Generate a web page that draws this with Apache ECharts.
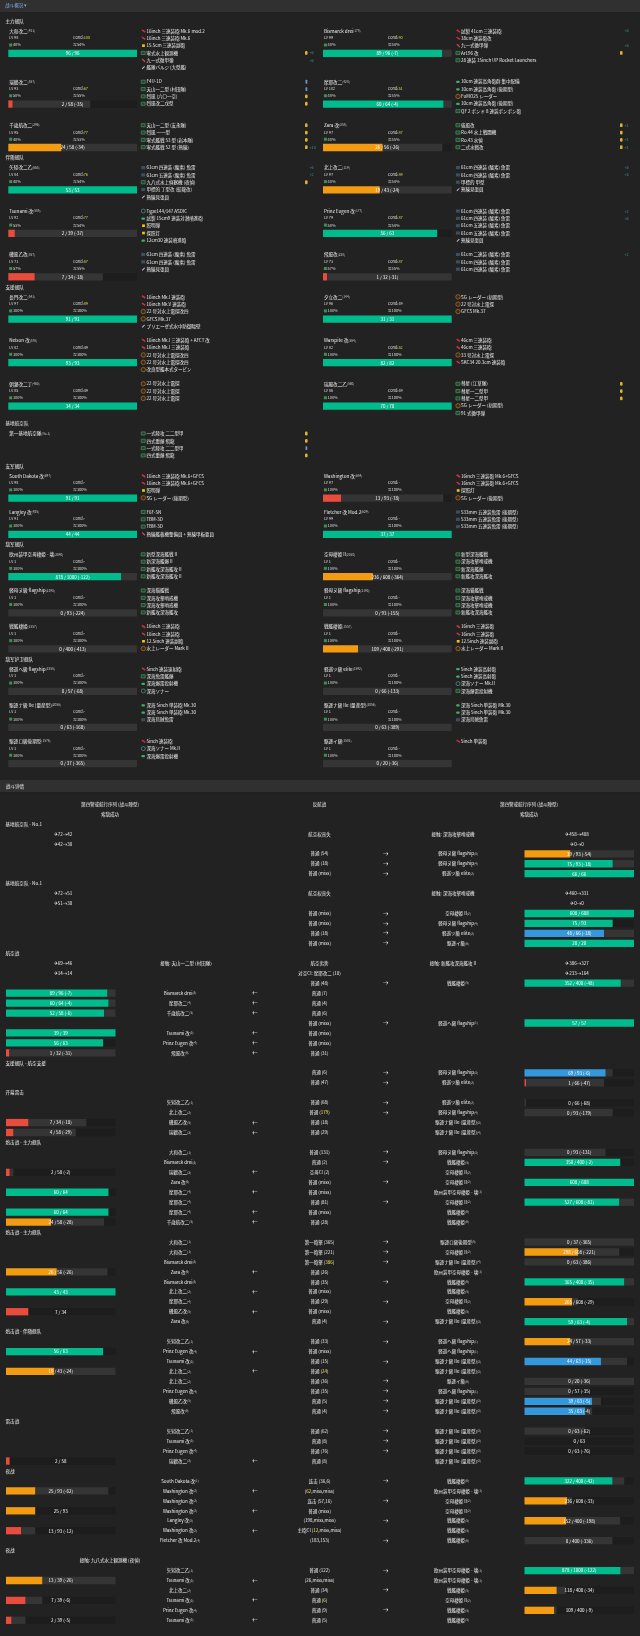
<!DOCTYPE html>
<html><head><meta charset="utf-8">
<style>html,body{margin:0;padding:0;background:#222}#c{width:640px;height:1636px;filter:blur(0.3px)}</style>
<script src="https://cdn.jsdelivr.net/npm/echarts@6/dist/echarts.min.js"></script>
</head><body><div id="c"></div>
<script>
// ---------- data: overview ----------
// ship: name, id, lv, cond, morale, ammo, now, prior, max, delta, equipment [type, name, tag, plus]
const gun16 = '16inch 三連装砲 Mk.6+GFCS', t61q = '61cm 四連装 (酸素) 魚雷', t61p = '61cm 五連装 (酸素) 魚雷';
const mainFleet = [
 ['大和改二','911',98,100,'40%','54%',96,96,96,0,[['gun','16inch 三連装砲 Mk.6 mod.2'],['gun','16inch 三連装砲 Mk.6'],['sec','15.5cm 三連装副砲'],['plane','零式水上観測機','y','+6'],['shell','九一式徹甲弾','','+6'],['item','艦隊バルジ (大型艦)']]],
 ['Bismarck drei','178',99,90,'40%','54%',89,96,96,7,[['gun','試製 41cm 三連装砲','','+5'],['gun','38cm 連装砲改'],['shell','九一式徹甲弾','','+5'],['plane','Ar196 改','y'],['plane','28 連装 15inch UP Rocket Launchers']]],
 ['瑞鶴改二','557',93,67,'50%','55%',2,37,58,35,[['plane','F4U-1D','b'],['plane','天山一二型 (村田隊)','b'],['plane','烈風 (六〇一空)','y'],['plane','烈風改二戊型','y']]],
 ['摩耶改二','428',102,51,'48%','55%',60,64,64,4,[['aa','10cm 連装高角砲群 集中配備'],['aa','10cm 連装高角砲 (後期型)'],['radar','FuMO25 レーダー'],['aa','10cm 連装高角砲 (後期型)'],['plane','QF 2 ポンド 8 連装ポンポン砲']]],
 ['千歳航改二','296',95,77,'40%','53%',24,58,58,34,[['plane','天山一二型 (友永隊)','y'],['plane','烈風 一一型','y'],['plane','零式艦戦 53 型 (岩本隊)','y'],['plane','零式艦戦 52 型 (熟練)','y','+10']]],
 ['Zara 改','358',97,87,'40%','55%',26,52,56,26,[['plane','強風改','y','+1'],['plane','Ro.44 水上戦闘機','y'],['plane','Ro.43 水偵','y','+1'],['plane','二式水戦改','y','+1']]]
];
const escortFleet = [
 ['矢矧改二乙','663',84,76,'40%','54%',53,53,53,0,[['torp',t61q,'','+6'],['torp',t61p,'','+2'],['plane','九八式水上偵察機 (夜偵)','y'],['torp','甲標的 丁型改 (蛟龍改)'],['item','熟練見張員']]],
 ['北上改二','119',97,89,'40%','54%',19,43,43,24,[['torp',t61q,'','+5'],['torp',t61q,'','+5'],['torp','甲標的 甲型'],['item','熟練見張員']]],
 ['Tsunami 改','585',92,77,'53%','54%',2,39,39,37,[['sonar','Type144/147 ASDIC'],['aa','試製 15cm9 連装対潜噴進砲'],['sec','照明弾'],['sec','探照灯'],['aa','12cm30 連装噴進砲']]],
 ['Prinz Eugen 改','177',79,87,'58%','54%',56,56,63,0,[['torp',t61q,'','+2'],['torp',t61q,'','+6'],['torp',t61p],['torp',t61p],['item','熟練見張員']]],
 ['磯風乙改','557',71,87,'57%','55%',7,25,34,18,[['torp',t61q],['torp',t61q],['item','熟練見張員']]],
 ['飛風改','228',73,87,'57%','55%',1,32,32,31,[['torp','61cm 二連装 (酸素) 魚雷','','+2'],['torp',t61q],['torp',t61q]]]
];
const supportFleet = [
 ['長門改二','541',97,89,'100%','100%',91,91,91,0,[['gun','16inch Mk.I 連装砲'],['gun','16inch Mk.V 連装砲'],['radar','22 号対水上電探改四'],['radar','GFCS Mk.37'],['item','プリエーゼ式水中防御隔壁']]],
 ['夕立改二','144',96,49,'100%','100%',31,31,31,0,[['radar','SG レーダー (初期型)'],['radar','22 号対水上電探'],['radar','GFCS Mk.37']]],
 ['Nelson 改','576',82,49,'100%','100%',93,93,93,0,[['gun','16inch Mk.I 三連装砲 + AFCT 改'],['gun','16inch Mk.I 三連装砲'],['radar','22 号対水上電探改四'],['radar','22 号対水上電探改四'],['radar','改良型艦本式タービン']]],
 ['Warspite 改','364',82,52,'100%','100%',82,82,82,0,[['gun','46cm 三連装砲'],['gun','46cm 三連装砲'],['radar','33 号対水上電探'],['gun','SKC34 20.3cm 連装砲']]],
 ['朝潮改二丁','463',85,49,'100%','100%',34,34,34,0,[['radar','22 号対水上電探'],['radar','22 号対水上電探'],['radar','22 号対水上電探']]],
 ['瑞鳳改二乙','560',86,49,'100%','100%',70,70,70,0,[['plane','彗星 (江草隊)','y'],['plane','彗星一二型甲','y'],['plane','彗星一二型甲','y'],['radar','SG レーダー (初期型)'],['plane','91 式徹甲弾']]]
];
const airBaseName = '第一基地航空隊', airBaseTag = 'No.1';
const airBaseSlots = [['plane','一式陸攻 二二型甲','y'],['plane','四式重爆 飛龍','y'],['plane','一式陸攻 二二型甲','b'],['plane','四式重爆 飛龍','y']];
const friendFleet = [
 ['South Dakota 改','697',98,'-','100%','100%',91,91,91,0,[['gun',gun16],['gun',gun16],['sec','照明弾'],['radar','SG レーダー (後期型)']]],
 ['Washington 改','654',97,'-','100%','100%',13,87,93,78,[['gun',gun16],['gun',gun16],['sec','探照灯'],['radar','SG レーダー (後期型)']]],
 ['Langley 改','925',91,'-','100%','100%',44,44,44,0,[['plane','F6F-5N'],['plane','TBM-3D'],['plane','TBM-3D'],['shell','熟練艦載機整備員 + 熟練甲板要員']]],
 ['Fletcher 改 Mod.2','629',99,'-','100%','100%',37,37,37,0,[['torp','533mm 五連装魚雷 (後期型)'],['torp','533mm 五連装魚雷 (後期型)'],['torp','533mm 五連装魚雷 (後期型)']]]
];
const enemyFleet = [
 ['欧州装甲空母棲姫 - 壊','2040',1,'-','100%','100%',878,1000,1000,122,[['plane','新型深海艦戦 II'],['plane','新深海艦爆 II'],['plane','新艦攻深海艦攻 II'],['plane','新艦攻深海艦攻 II']]],
 ['空母棲姫 II','2160',1,'-','100%','100%',236,608,608,364,[['plane','新型深海艦戦'],['plane','深海攻撃哨戒機'],['plane','新深海艦爆'],['plane','新艦攻深海艦攻']]],
 ['軽母ヌ級 flagship','2193',1,'-','100%','100%',0,93,93,224,[['plane','深海猫艦戦'],['plane','深海攻撃哨戒機'],['plane','深海攻撃哨戒機'],['plane','新艦攻深海艦攻']]],
 ['軽母ヌ級 flagship','2193',1,'-','100%','100%',0,93,93,155,[['plane','深海猫艦戦'],['plane','深海攻撃哨戒機'],['plane','深海攻撃哨戒機'],['plane','新艦攻深海艦攻']]],
 ['戦艦棲姫','1557',1,'-','100%','100%',0,400,400,413,[['gun','16inch 三連装砲'],['gun','16inch 三連装砲'],['sec','12.5inch 連装副砲'],['radar','水上レーダー Mark II']]],
 ['戦艦棲姫','1557',1,'-','100%','100%',109,400,400,291,[['gun','16inch 三連装砲'],['gun','16inch 三連装砲'],['sec','12.5inch 連装副砲'],['radar','水上レーダー Mark II']]]
];
const enemyEscort = [
 ['軽巡ヘ級 flagship','1555',1,'-','100%','100%',0,57,57,68,[['gun','5inch 連装速射砲'],['plane','深海魚雷艦爆'],['aa','深海爆雷投射機'],['sonar','深海ソナー']]],
 ['軽巡ツ級 elite','1592',1,'-','100%','100%',0,66,66,133,[['aa','5inch 連装高射砲'],['aa','5inch 連装高射砲'],['sonar','深海ソナー Mk.II'],['plane','深海爆雷投射機']]],
 ['駆逐ナ級 IIe (量産型)','2056',1,'-','100%','100%',0,63,63,168,[['aa','深海 5inch 単装砲 Mk.30'],['aa','深海 5inch 単装砲 Mk.30'],['torp','深海烏賊魚雷']]],
 ['駆逐ナ級 IIe (量産型)','2056',1,'-','100%','100%',0,63,63,389,[['aa','深海 5inch 単装砲 Mk.30'],['aa','深海 5inch 単装砲 Mk.30'],['torp','深海烏賊魚雷']]],
 ['駆逐ロ級後期型','1576',1,'-','100%','100%',0,37,37,365,[['gun','5inch 連装砲'],['sonar','深海ソナー Mk.II'],['aa','深海爆雷投射機']]],
 ['駆逐イ級','1501',1,'-','100%','100%',0,20,20,36,[['gun','5inch 単装砲']]]
];
const overviewTitle = '战斗概况 ▾', detailTitle = '战斗详情';
const fleetTitles = ['主力舰队','伴随舰队','支援舰队','基地航空队','友军舰队','敌军舰队','敌军护卫舰队'];

// ---------- data: battle ----------
// hit: source, direction, attack, target, now, prior, max, delta  (!n = critical)
const Ya='大和改二|1',Bi='Bismarck drei|2',Zu='瑞鶴改二|3',Ma='摩耶改二|4',Ch='千歳航改二|5',Za='Zara 改|6';
const Yh='矢矧改二乙|1',Ki='北上改二|2',Ts='Tsunami 改|3',Pr='Prinz Eugen 改|4',Is='磯風乙改|5',Hi='飛風改|6';
const Sd='South Dakota 改|1',Wa='Washington 改|2',La='Langley 改|3',Fl='Fletcher 改 Mod.2|4';
const Eu='欧州装甲空母棲姫 - 壊|1',Kb='空母棲姫 II|2',Nu3='軽母ヌ級 flagship|3',Nu4='軽母ヌ級 flagship|4',Se5='戦艦棲姫|5',Se6='戦艦棲姫|6';
const He='軽巡ヘ級 flagship|1',Tu='軽巡ツ級 elite|2',Na3='駆逐ナ級 IIe (量産型)|3',Na4='駆逐ナ級 IIe (量産型)|4',Ro='駆逐ロ級後期型|5',Iy='駆逐イ級|6';
const topHeader = ['第四警戒航行序列 (战斗陣型)','反航战','第四警戒航行序列 (战斗陣型)'];
const topSearch = ['索敌成功','','索敌成功'];
const lbInfo1 = [['✈72→42','','航空权丧失','接触: 深海攻撃哨戒機','✈458→408'],['✈42→30','','','','✈0→0']];
const lbHits1 = [['','→','普通 (54)',Nu3,39,93,93,54],['','→','普通 (18)',Nu4,75,93,93,18],['','→','普通 (miss)',Tu,66,66,66,0]];
const lbInfo2 = [['✈72→51','','航空权丧失','接触: 深海攻撃哨戒機','✈460→331'],['✈51→30','','','','✈0→0']];
const lbHits2 = [['','→','普通 (miss)',Kb,608,608,608,0],['','→','普通 (miss)',Nu4,75,75,93,0],['','→','普通 (18)',Tu,48,66,66,18],['','→','普通 (miss)',Iy,20,20,20,0]];
const airInfo = [['✈69→46','接触: 天山一二型 (村田隊)','航空劣势','接触: 新艦攻深海艦攻 II','✈386→327'],['✈14→14','','对空CI: 摩耶改二 (10)','','✈233→164']];
const airHits = [['','→','普通 (48)',Se5,352,400,400,48],['←',Bi,'普通 (7)','',89,96,96,7],['←',Ma,'普通 (4)','',60,64,64,4],['←',Ch,'普通 (6)','',52,58,58,6],['','→','普通 (miss)',He,57,57,57,0],['←',Ts,'普通 (miss)','',39,39,39,0],['←',Pr,'普通 (miss)','',56,56,63,0],['←',Hi,'普通 (31)','',1,32,32,31]];
const supportHits = [['','→','普通 (6)',Nu3,69,75,93,6],['','→','普通 (47)',Tu,1,48,66,47]];
const torpHits = [[Yh,'→','普通 (68)',Tu,0,1,66,68],[Ki,'→','普通 (!179)',Nu4,0,75,93,179],[Is,'←','普通 (18)',Na3,7,25,34,18],[Zu,'←','普通 (29)',Na4,4,37,58,29]];
const shell1Hits = [[Ya,'→','普通 (131)',Nu3,0,69,93,131],[Bi,'→','普通 (2)',Se5,350,352,400,2],[Zu,'←','空母CI (2)',Kb,2,4,58,2],[Za,'→','普通 (miss)',Kb,608,608,608,0],[Ma,'←','普通 (miss)',Eu,60,60,64,0],[Ma,'→','普通 (81)',Kb,527,608,608,81],[Ma,'←','普通 (miss)',Se6,60,60,64,0],[Ch,'←','普通 (28)',Se6,24,52,58,28]];
const shell2Hits = [[Ya,'→','第一砲撃 (365)',Ro,0,37,37,365],[Ya,'→','第一砲撃 (221)',Kb,298,527,608,221],[Bi,'→','第一砲撃 (!386)',Na4,0,63,63,386],[Za,'←','普通 (26)',Eu,26,52,56,26],[Bi,'→','普通 (35)',Se6,365,400,400,35],[Ki,'←','普通 (miss)',Se5,43,43,43,0],[Ma,'→','普通 (29)',Kb,265,298,608,29],[Is,'←','普通 (miss)',Se5,7,7,34,0],[Za,'→','普通 (4)',Na3,59,63,63,4]];
const shell3Hits = [[Yh,'→','普通 (33)',He,24,57,57,33],[Pr,'←','普通 (miss)',He,56,56,63,0],[Ts,'→','普通 (15)',Na3,44,59,63,15],[Ki,'←','普通 (!24)',Na3,19,43,43,24],[Ki,'→','普通 (36)',Iy,0,20,20,36],[Pr,'→','普通 (35)',He,0,24,57,35],[Is,'→','普通 (5)',Na3,39,44,63,5],[Hi,'→','普通 (4)',Na3,35,39,63,4]];
const torpedoHits = [[Yh,'→','普通 (62)',Na3,0,35,63,62],[Ts,'→','普通 (8)',Na3,0,0,63,0],[Pr,'→','普通 (76)',Na3,0,0,63,76],[Zu,'←','普通 (8)',Na3,2,2,58,0]];
const night1Hits = [[Sd,'→','连击 (36,6)',Se6,322,365,400,42],[Wa,'←','(!62,miss,miss)',Eu,25,87,93,62],[Wa,'→','连击 (57,16)',Kb,236,265,608,33],[Wa,'←','普通 (miss)',Kb,25,25,93,0],[La,'→','(198,miss,miss)',Se5,152,350,400,198],[Wa,'←','主砲CI (!12,miss,miss)',Se5,13,25,93,12],[Fl,'→','(183,153)',Se6,0,322,400,336]];
const night2Info = [['','接触: 九八式水上観測機 (夜偵)','','','']];
const night2Hits = [[Yh,'→','普通 (122)',Eu,878,1000,1000,122],[Ts,'←','(26,miss,miss)',Eu,13,39,39,26],[Ki,'→','普通 (34)',Se5,118,152,400,34],[Ts,'←','普通 (!6)',Kb,7,13,39,6],[Pr,'→','普通 (9)',Se5,109,118,400,9],[Ts,'←','普通 (5)',Se5,2,7,39,5]];
const phaseTitles = ['基地航空队 - No.1','基地航空队 - No.1','航空战','支援舰队 - 航空支援','开幕雷击','炮击战 - 主力舰队','炮击战 - 主力舰队','炮击战 - 伴随舰队','雷击战','夜战','夜战'];

// ---------- layout and style ----------
const FONT='"Noto Sans CJK JP","Noto Sans",sans-serif';
const G=[], grids=[], xAxes=[], yAxes=[], series=[];
function txt(x,y,s,size,fill,align){G.push({type:'text',silent:true,z:100,style:{x,y,text:s,font:size+'px '+FONT,fill:fill||'#eee',align:align||'left',verticalAlign:'middle'}});}
function rich(x,y,s,rt,align){G.push({type:'text',silent:true,z:100,style:{x,y,text:s,rich:rt,align:align||'left',verticalAlign:'middle'}});}
const nameRich=(size)=>({n:{font:size+'px '+FONT,fill:'#eee'},s:{font:(size-1.4)+'px '+FONT,fill:'#ccc'},c:{font:size+'px '+FONT,fill:'#f1e05a'}});
function named(x,y,str,size,align){const p=str.split('|');rich(x,y,'{n|'+p[0]+'}'+(p[1]?'{s|('+p[1]+')}':''),nameRich(size),align);}
function rect(x,y,w,h,fill,r){G.push({type:'rect',silent:true,shape:{x,y,width:w,height:h,r:r||0},style:{fill}});}
function barColor(r){return r>=0.75?'#00bc8c':r>=0.5?'#3498db':r>=0.25?'#f39c12':'#e74c3c';}
function bar(x,cy,w,now,prior,max,delta){
  const i=grids.length,h=7.3;
  grids.push({left:x,top:cy-h/2,width:w,height:h,show:false});
  xAxes.push({gridIndex:i,type:'value',min:0,max:max,show:false});
  yAxes.push({gridIndex:i,type:'category',data:['hp'],show:false});
  const base={type:'bar',xAxisIndex:i,yAxisIndex:i,stack:'b'+i,barWidth:'100%',silent:true,animation:false};
  series.push(Object.assign({},base,{data:[now],itemStyle:{color:barColor(now/max)}}));
  series.push(Object.assign({},base,{data:[Math.max(prior-now,0)],itemStyle:{color:'#353535'}}));
  series.push(Object.assign({},base,{data:[Math.max(max-Math.max(prior,now),0)],itemStyle:{color:'#1d1d1d'}}));
  const label=now+' / '+max+(delta?' (-'+delta+')':'');
  txt(x+w/2,cy+0.2,label,4.5,'#fff','center');
}
function icon(t,x,y){
  if(t==='gun')G.push({type:'rect',silent:true,x:x+1.8,y:y,rotation:-0.6,originX:0,originY:0,shape:{x:-2,y:-0.8,width:4,height:1.6},style:{fill:'#c8313f'}});
  else if(t==='shell')G.push({type:'rect',silent:true,x:x+1.8,y:y,rotation:-0.8,shape:{x:-2,y:-0.6,width:4,height:1.2},style:{fill:'#c8505a'}});
  else if(t==='sec')rect(x+0.3,y-1.3,2.8,2.6,'#f1c40f');
  else if(t==='plane')G.push({type:'rect',silent:true,shape:{x:x-0.6,y:y-1.6,width:4,height:3.2},style:{fill:'#24452f',stroke:'#4fa36a',lineWidth:0.6}});
  else if(t==='aa')G.push({type:'rect',silent:true,shape:{x:x-0.4,y:y-0.9,width:3.6,height:2.2,r:1},style:{fill:'#3fae6a'}});
  else if(t==='torp')rect(x-0.6,y-1.6,4,3.2,'#3c4e60');
  else if(t==='radar')G.push({type:'circle',silent:true,shape:{cx:x+1.5,cy:y,r:2.2},style:{fill:'#3a2a18',stroke:'#b5722a',lineWidth:0.7}});
  else if(t==='sonar')G.push({type:'circle',silent:true,shape:{cx:x+1.5,cy:y,r:2},style:{fill:'#222',stroke:'#6aa',lineWidth:0.6}});
  else G.push({type:'rect',silent:true,x:x+1.6,y:y,rotation:0.8,shape:{x:-1.8,y:-0.5,width:3.6,height:1},style:{fill:'#c9b6d8'}});
}
function equips(list,x,y0,tagX){
  list.forEach((e,k)=>{
    const y=y0+k*7.32;
    icon(e[0],x,y); txt(x+4.6,y,e[1],4.5);
    if(e[2]==='y')rect(tagX,y-1.9,2.6,3.8,'#dfb52a',1.2);
    if(e[2]==='b')rect(tagX+0.5,y-1.9,1.8,3.8,'#6d8fc4',0.5);
    if(e[3])txt(tagX+4.4,y,e[3],3.9,'#2f9a92');
  });
}
function shipBlock(s,col,y){
  const x0=col?323:8.3, w=128.7;
  named(x0+0.9,y,s[0]+'|'+s[1],4.6);
  txt(x0+0.9,y+6.8,'Lv '+s[2],3.9,'#ddd');
  const cond=(typeof s[3]==='number'&&s[3]>=50)?'#e5d94f':'#ddd';
  rich(x0+64.7,y+6.8,'{a|Cond:}{b|'+s[3]+'}',{a:{font:'3.9px '+FONT,fill:'#ddd'},b:{font:'3.9px '+FONT,fill:cond}});
  rect(x0+0.9,y+12.5,3,3,'#3f8f55');
  txt(x0+4.6,y+14,s[4],3.9,'#ddd');
  txt(x0+64.7,y+14,'≈'+s[5],3.9,'#ddd');
  bar(x0,y+22.3,w,s[6],s[7],s[8],s[9]);
  equips(s[10],x0+133.5,y,col?620:305);
}
function fleetPairs(list,y){
  for(let i=0;i<list.length;i+=2){
    shipBlock(list[i],0,y);
    if(list[i+1])shipBlock(list[i+1],1,y);
    const rows=Math.max(list[i][10].length,list[i+1]?list[i+1][10].length:0,4);
    y+=rows*7.32+(i+2<list.length?6.85:3.1);
  }
  return y;
}
// page furniture
rect(0,0,640,12.4,'#303030'); rect(0,12.4,640,0.6,'#1b1b1b');
txt(5,5.6,overviewTitle,4.6,'#7fa9dc');
let oy=21;
[mainFleet,escortFleet,supportFleet].forEach((f,i)=>{txt(5.5,oy,fleetTitles[i],4.6);oy=fleetPairs(f,oy+10);});
txt(5.5,oy,fleetTitles[3],4.6);
named(9.2,oy+10,airBaseName+'|'+airBaseTag,4.6);
equips(airBaseSlots,141.8,oy+10,305);
oy+=10+4*7.32+3.1;
[friendFleet,enemyFleet,enemyEscort].forEach((f,i)=>{txt(5.5,oy,fleetTitles[i+4],4.6);oy=fleetPairs(f,oy+10);});

rect(0,780,640,12.6,'#303030'); rect(0,792.6,640,0.6,'#1b1b1b');
txt(5.7,786.3,detailTitle,4.6);

const ROW0=804, STEP=9.955;
const cL=110,cM=319.6,cR=529;
function rowY(i){return ROW0+i*STEP;}
function attackText(x,y,s){
  const t=s.replace(/!(\d+)/g,'}{c|$1}{n|');
  rich(x,y,'{n|'+t+'}',nameRich(4.5),'center');
}
let r=0;
function rowsInfo(list){list.forEach(a=>{const y=rowY(r);
  if(a[0])txt(63,y,a[0],4.5,'#eee','center');
  if(a[1])txt(a[2]||a[3]||a[4]?186:110,y,a[1],4.5,'#eee','center');
  if(a[2])txt(cM,y,a[2],4.5,'#eee','center');
  if(a[3])txt(453,y,a[3],4.5,'#eee','center');
  if(a[4])txt(577,y,a[4],4.5,'#eee','center');
  r++;});}
function rowsHits(list){list.forEach(h=>{const y=rowY(r);
  let src=h[0],dir=h[1],atk=h[2],tgt=h[3];
  if(h[0]==='←'){src=h[1];dir='←';}
  if(src)named(180,y,src,4.5,'center');
  txt(dir==='→'?385.6:255,y,dir,5.4,'#fff','center');
  attackText(cM,y,atk);
  if(tgt)named(458,y,tgt,4.5,'center');
  if(dir==='→')bar(524.5,y,109.5,h[4],h[5],h[6],h[7]);
  else bar(6,y,109.5,h[4],h[5],h[6],h[7]);
  r++;});}
function phase(t){txt(5.5,rowY(r),t,4.6);r++;}
topHeader.forEach((s,i)=>{if(s)txt([cL,cM,cR][i],rowY(0),s,4.5,'#eee','center');});r=1;
topSearch.forEach((s,i)=>{if(s)txt([cL,cM,cR][i],rowY(1),s,4.5,'#eee','center');});r=2;
phase(phaseTitles[0]);rowsInfo(lbInfo1);rowsHits(lbHits1);
phase(phaseTitles[1]);rowsInfo(lbInfo2);rowsHits(lbHits2);
phase(phaseTitles[2]);rowsInfo(airInfo);rowsHits(airHits);
phase(phaseTitles[3]);rowsHits(supportHits);
phase(phaseTitles[4]);rowsHits(torpHits);
phase(phaseTitles[5]);rowsHits(shell1Hits);
phase(phaseTitles[6]);rowsHits(shell2Hits);
phase(phaseTitles[7]);rowsHits(shell3Hits);
phase(phaseTitles[8]);rowsHits(torpedoHits);
phase(phaseTitles[9]);rowsHits(night1Hits);
phase(phaseTitles[10]);rowsInfo(night2Info);rowsHits(night2Hits);

const chart=echarts.init(document.getElementById('c'),null,{renderer:'canvas',width:640,height:1636});
chart.setOption({backgroundColor:'#222',animation:false,grid:grids,xAxis:xAxes,yAxis:yAxes,series:series,graphic:{elements:G}});
</script></body></html>
